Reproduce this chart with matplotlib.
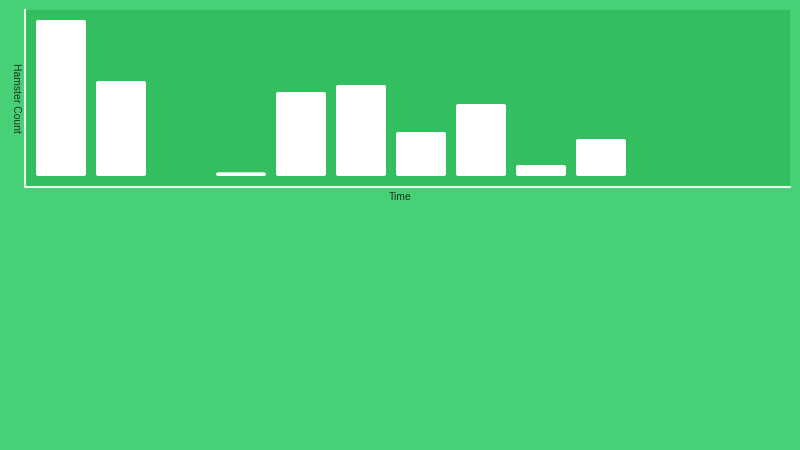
import matplotlib
matplotlib.use("Agg")
import matplotlib.pyplot as plt
from matplotlib.patches import FancyBboxPatch

slots = list(range(13))
counts = [156, 95, 0, 3.7, 84, 91, 44, 72, 11, 37, 0, 0, 0]

BG = "#48d077"
AX = "#33be60"
TXT = "#1c3324"

plt.rcParams['font.family'] = ['Liberation Sans', 'DejaVu Sans']

fig = plt.figure(figsize=(8, 4.5), dpi=100, facecolor=BG)
ax = fig.add_axes([25/800, (450-186.5)/450, 765/800, 176.5/450])
ax.set_facecolor(AX)

width = 50/60
for s, c in zip(slots, counts):
    if c <= 0:
        continue
    p = FancyBboxPatch((s - width/2, 0), width, c,
                       boxstyle="round,pad=0,rounding_size=0.035",
                       mutation_aspect=60, facecolor="white", edgecolor="none")
    ax.add_patch(p)

ax.set_xlim((25-61)/60, (790-61)/60)
ax.set_ylim(-10.5, 166)
ax.set_xticks([])
ax.set_yticks([])
for side in ["top", "right"]:
    ax.spines[side].set_visible(False)
for side in ["left", "bottom"]:
    ax.spines[side].set_color("#e6f7ea")
    ax.spines[side].set_linewidth(1.5)

fig.text(400/800, 1-197.5/450, "Time", ha="center", va="center", fontsize=7.5, color=TXT)
fig.text(15.5/800, 1-98/450, "Hamster Count", ha="center", va="center", rotation=270,
         fontsize=7.5, color=TXT)

fig.savefig("out.png", dpi=100, facecolor=BG)
